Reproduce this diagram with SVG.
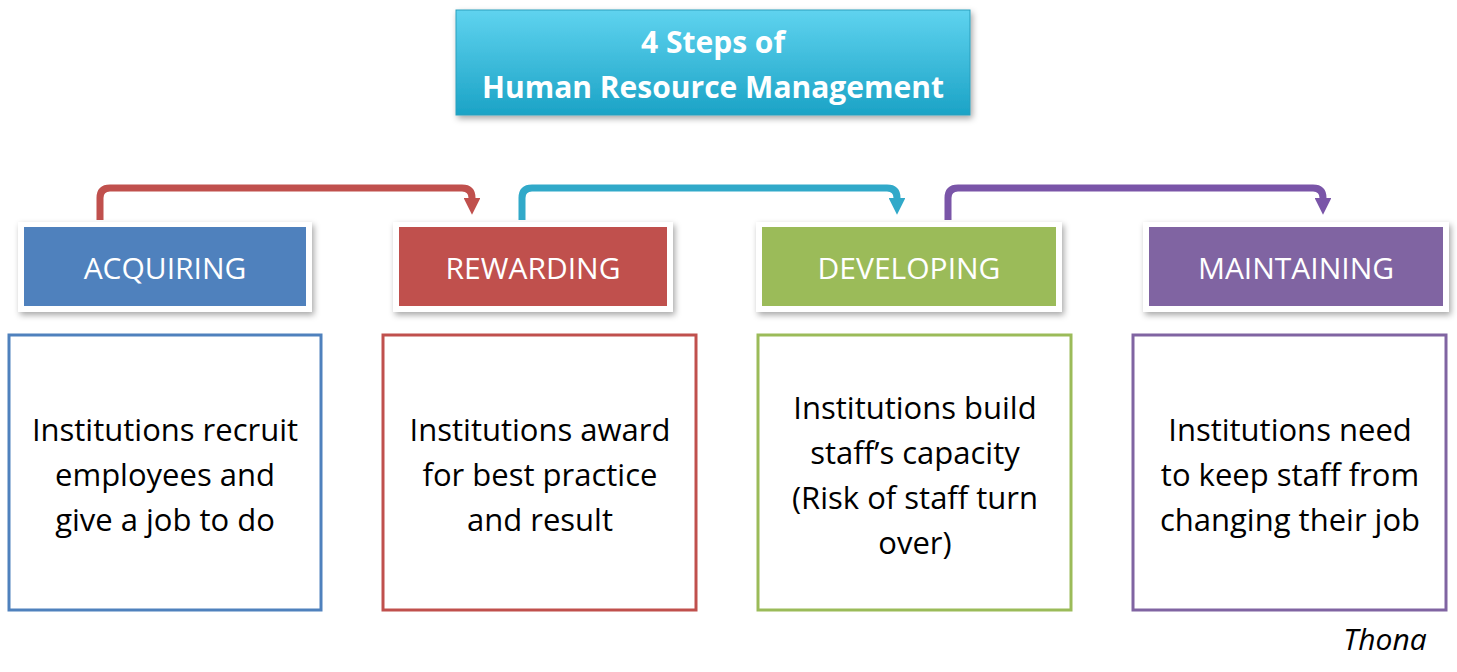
<svg xmlns="http://www.w3.org/2000/svg" width="1457" height="672" viewBox="0 0 1457 672">
<defs>
<linearGradient id="tg" x1="0" y1="0" x2="0" y2="1"><stop offset="0" stop-color="#5fd3ef"/><stop offset="1" stop-color="#1ba3c6"/></linearGradient>
<filter id="sh" x="-10%" y="-10%" width="130%" height="140%"><feDropShadow dx="2" dy="3" stdDeviation="3" flood-color="#000" flood-opacity="0.35"/></filter>
<marker id="ar" viewBox="0 0 10 10" refX="5" refY="5" markerWidth="2.2" markerHeight="2.2" orient="auto"><path d="M0,0 L10,5 L0,10 z" fill="context-stroke"/></marker>
<marker id="ar1" viewBox="0 0 10 10" refX="3" refY="5" markerWidth="2.4" markerHeight="2.4" orient="auto"><path d="M0,0 L10,5 L0,10 z" fill="#c0504d"/></marker>
<marker id="ar2" viewBox="0 0 10 10" refX="3" refY="5" markerWidth="2.4" markerHeight="2.4" orient="auto"><path d="M0,0 L10,5 L0,10 z" fill="#31a9c9"/></marker>
<marker id="ar3" viewBox="0 0 10 10" refX="3" refY="5" markerWidth="2.4" markerHeight="2.4" orient="auto"><path d="M0,0 L10,5 L0,10 z" fill="#7a55a8"/></marker>
</defs>
<style>
.h{fill:#fff;font-family:"Open Sans","Liberation Sans",sans-serif;font-size:30px;text-anchor:middle}
.b{fill:#000;font-family:"Open Sans","Liberation Sans",sans-serif;font-size:31px;text-anchor:middle}
.frame{fill:#fff;filter:url(#sh)}
.body{fill:#fff;stroke-width:3}
.c{fill:none;stroke-width:7;stroke-linejoin:round}
</style>
<g id="title">
<rect x="456" y="10" width="514" height="105" fill="url(#tg)" stroke="#2a9fbd" filter="url(#sh)"/>
<text x="713" y="53" class="h" font-weight="bold" style="font-size:30px">4 Steps of</text>
<text x="713" y="98" class="h" font-weight="bold" style="font-size:30px">Human Resource Management</text>
</g>
<g id="connectors">
<path class="c" stroke="#c0504d" marker-end="url(#ar1)" d="M100,220 V198 Q100,188 110,188 H462 Q472,188 472,198 V203"/>
<path class="c" stroke="#31a9c9" marker-end="url(#ar2)" d="M522,220 V198 Q522,188 532,188 H887 Q897,188 897,198 V203"/>
<path class="c" stroke="#7a55a8" marker-end="url(#ar3)" d="M948,220 V198 Q948,188 958,188 H1313 Q1323,188 1323,198 V203"/>
</g>
<g id="acquiring"><rect class="frame" x="18" y="222" width="294" height="90"/><rect x="24" y="227" width="282" height="79" fill="#4f81bd"/><text class="h" x="165" y="279">ACQUIRING</text></g>
<g id="rewarding"><rect class="frame" x="393" y="222" width="280" height="90"/><rect x="399" y="227" width="268" height="79" fill="#c0504d"/><text class="h" x="533" y="279">REWARDING</text></g>
<g id="developing"><rect class="frame" x="756" y="222" width="306" height="90"/><rect x="762" y="227" width="294" height="79" fill="#9bbb59"/><text class="h" x="909" y="279">DEVELOPING</text></g>
<g id="maintaining"><rect class="frame" x="1143" y="222" width="306" height="90"/><rect x="1149" y="227" width="294" height="79" fill="#8064a2"/><text class="h" x="1296" y="279">MAINTAINING</text></g>
<g id="acq-body"><rect class="body" x="9" y="335" width="312" height="275" stroke="#4f81bd"/>
<text class="b" x="165" y="441">Institutions recruit</text><text class="b" x="165" y="486">employees and</text><text class="b" x="165" y="531">give a job to do</text></g>
<g id="rew-body"><rect class="body" x="383" y="335" width="313" height="275" stroke="#c0504d"/>
<text class="b" x="540" y="441">Institutions award</text><text class="b" x="540" y="486">for best practice</text><text class="b" x="540" y="531">and result</text></g>
<g id="dev-body"><rect class="body" x="758" y="335" width="313" height="275" stroke="#9bbb59"/>
<text class="b" x="915" y="419">Institutions build</text><text class="b" x="915" y="464">staff’s capacity</text><text class="b" x="915" y="509">(Risk of staff turn</text><text class="b" x="915" y="554">over)</text></g>
<g id="mai-body"><rect class="body" x="1133" y="335" width="313" height="275" stroke="#8064a2"/>
<text class="b" x="1290" y="441">Institutions need</text><text class="b" x="1290" y="486">to keep staff from</text><text class="b" x="1290" y="531">changing their job</text></g>
<text x="1385" y="650" font-family="'Open Sans','Liberation Sans',sans-serif" font-style="italic" font-size="30" text-anchor="middle">Thona</text>
</svg>
